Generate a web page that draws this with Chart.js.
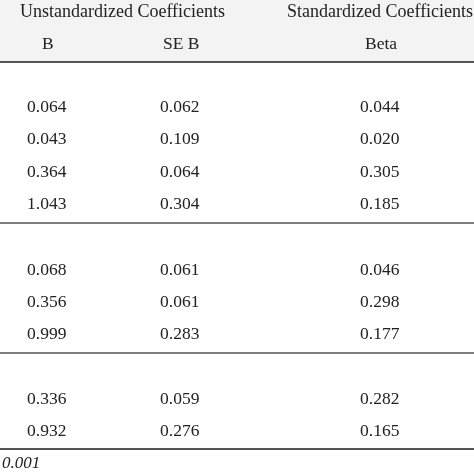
<!DOCTYPE html><html><head><meta charset="utf-8">
<script src="https://cdn.jsdelivr.net/npm/chart.js@4"></script>
<style>html,body{margin:0;padding:0;background:#fff}#w{width:474px;height:474px}</style></head><body>
<div id="w"><canvas id="c"></canvas></div>
<script>
const groupHeaders = ["Unstandardized Coefficients", "Standardized Coefficients"];
const columnLabels = ["B", "SE B", "Beta"];
const colB = ["0.064","0.043","0.364","1.043","0.068","0.356","0.999","0.336","0.932"];
const colSE = ["0.062","0.109","0.064","0.304","0.061","0.061","0.283","0.059","0.276"];
const colBeta = ["0.044","0.020","0.305","0.185","0.046","0.298","0.177","0.282","0.165"];
const footnote = "0.001";

// layout (pixel-space units for the hidden linear scales)
const rowY = [107,139.5,172,204.5,270,302,334.5,399,431];
const ruleY = [62,223,353,449];
const thickRules = [62,449];

const tablePlugin = {
  id:'table',
  beforeDatasetsDraw(chart){
    const {ctx, scales:{x,y}} = chart;
    const X = v=>x.getPixelForValue(v), Y = v=>y.getPixelForValue(v);
    ctx.save();
    ctx.fillStyle = '#f3f3f3';
    ctx.fillRect(X(0), Y(0), X(474)-X(0), Y(61)-Y(0));
    ruleY.forEach(r=>{
      ctx.strokeStyle = '#555';
      ctx.lineWidth = thickRules.includes(r) ? 2 : 1.5;
      ctx.beginPath(); ctx.moveTo(X(0), Y(r)); ctx.lineTo(X(474), Y(r)); ctx.stroke();
    });
    ctx.fillStyle = '#222';
    ctx.textBaseline = 'middle';
    ctx.textAlign = 'left';
    ctx.font = '18px "Liberation Serif", "Times New Roman", serif';
    ctx.fillText(groupHeaders[0], X(20), Y(12));
    ctx.fillText(groupHeaders[1], X(287), Y(12));
    ctx.font = '17.5px "Liberation Serif", "Times New Roman", serif';
    ctx.fillText(columnLabels[0], X(42), Y(44));
    ctx.fillText(columnLabels[1], X(163), Y(44));
    ctx.fillText(columnLabels[2], X(365), Y(44));
    rowY.forEach((ry,i)=>{
      ctx.fillText(colB[i], X(27), Y(ry));
      ctx.fillText(colSE[i], X(160), Y(ry));
      ctx.fillText(colBeta[i], X(360), Y(ry));
    });
    ctx.font = 'italic 17px "Liberation Serif", "Times New Roman", serif';
    ctx.fillText(footnote, X(2), Y(464));
    ctx.restore();
  }
};

new Chart(document.getElementById('c'), {
  type:'scatter',
  data:{datasets:[{data:[], pointRadius:0}]},
  options:{
    responsive:true, maintainAspectRatio:false, animation:false,
    layout:{padding:0},
    plugins:{legend:{display:false}, tooltip:{enabled:false}},
    scales:{
      x:{type:'linear', min:0, max:474, display:false},
      y:{type:'linear', min:0, max:474, reverse:true, display:false}
    }
  },
  plugins:[tablePlugin]
});
</script></body></html>
